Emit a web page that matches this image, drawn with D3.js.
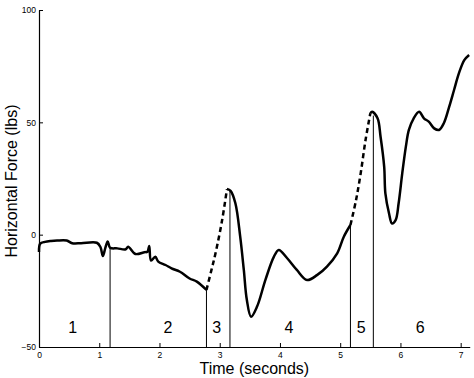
<!DOCTYPE html>
<html>
<head>
<meta charset="utf-8">
<script src="https://cdn.jsdelivr.net/npm/d3@7"></script>
<style>
  body { margin: 0; background: #fff; }
  svg { display: block; }
  text { font-family: "Liberation Sans", Arial, sans-serif; }
</style>
</head>
<body>
<svg width="474" height="378"></svg>
<script>
// tick values
const timeTicks = [0, 1, 2, 3, 4, 5, 6, 7];
const forceTicks = [-50, 0, 50, 100];

// force trace, [time (s), force (lbs)], one array per phase
const phase1and2 = [
  [0, -7.7], [0.02, -4], [0.1, -3.2], [0.2, -2.8], [0.3, -2.6], [0.46, -2.6],
  [0.55, -3.8], [0.7, -3.8], [0.96, -3.6], [1.02, -5.5], [1.06, -9.5], [1.1, -6],
  [1.14, -3], [1.18, -5.8], [1.3, -6.1], [1.44, -6.5], [1.48, -5.4], [1.6, -8.6],
  [1.75, -7.8], [1.8, -7.6], [1.83, -5], [1.86, -11.5], [1.93, -9.8], [1.98, -12],
  [2.1, -13.5], [2.2, -15], [2.34, -16.5], [2.5, -19.5], [2.62, -20.9], [2.78, -24.6]
];
const phase3 = [
  [2.78, -24.6], [2.86, -16], [2.93, -8.3], [3.04, 6.5], [3.12, 20.3]
];
const phase4 = [
  [3.12, 20.3], [3.18, 19.5], [3.26, 14], [3.34, -0.9], [3.4, -15.7], [3.45, -29],
  [3.52, -36.5], [3.62, -32], [3.76, -20], [3.9, -9.8], [3.98, -6.8], [4.12, -10.5],
  [4.28, -15.7], [4.45, -20.2], [4.62, -17.9], [4.78, -14.2], [4.95, -8.3],
  [5.06, -0.9], [5.17, 4.3]
];
const phase5 = [
  [5.17, 4.3], [5.26, 15], [5.34, 27.3], [5.42, 42], [5.5, 54]
];
const phase6 = [
  [5.5, 54], [5.53, 54.7], [5.62, 51.8], [5.67, 43.6], [5.73, 30.3], [5.75, 18.4],
  [5.81, 9.5], [5.86, 5], [5.92, 6.5], [5.97, 14], [6.03, 27.3], [6.09, 39.2],
  [6.14, 46.6], [6.22, 51.8], [6.31, 54.7], [6.39, 51.8], [6.47, 50.3], [6.56, 47.3],
  [6.64, 46.6], [6.72, 49.6], [6.81, 57], [6.89, 64.4], [6.97, 71.8], [7.06, 77.7],
  [7.14, 80]
];

// phase boundaries: [time, force at the trace]
const boundaries = [[1.18, -5.8], [2.78, -24.6], [3.17, 19.8], [5.17, 4.3], [5.55, 53]];
const phaseLabels = ["1", "2", "3", "4", "5", "6"];
const phaseLabelTimes = [0.56, 2.14, 2.95, 4.15, 5.35, 6.33];

const svg = d3.select("svg"),
    margin = {top: 10, right: 4, bottom: 31, left: 39},
    width = +svg.attr("width") - margin.left - margin.right,
    height = +svg.attr("height") - margin.top - margin.bottom;

const chart = svg.append("g").attr("transform", `translate(${margin.left},${margin.top})`);

const x = d3.scaleLinear().domain([0, 7.15]).range([0, 7.15 * 60.24]);
const y = d3.scaleLinear().domain([-50, 100]).range([height, 0]);

const line = d3.line().x(d => x(d[0])).y(d => y(d[1])).curve(d3.curveCatmullRom);

// boundary lines
chart.append("g")
    .selectAll("line")
    .data(boundaries)
    .join("line")
    .attr("x1", d => x(d[0]))
    .attr("x2", d => x(d[0]))
    .attr("y1", height)
    .attr("y2", d => y(d[1]))
    .attr("stroke", "#000")
    .attr("stroke-width", 1);

// trace
const segments = [
  {pts: phase1and2, dashed: false},
  {pts: phase3, dashed: true},
  {pts: phase4, dashed: false},
  {pts: phase5, dashed: true},
  {pts: phase6, dashed: false}
];

chart.append("g")
    .selectAll("path")
    .data(segments)
    .join("path")
    .attr("d", d => line(d.pts))
    .attr("fill", "none")
    .attr("stroke", "#000")
    .attr("stroke-width", 2.5)
    .attr("stroke-linejoin", "round")
    .attr("stroke-dasharray", d => d.dashed ? "5,3.5" : null);

// phase numbers
chart.append("g")
    .selectAll("text")
    .data(phaseLabels)
    .join("text")
    .attr("x", (d, i) => x(phaseLabelTimes[i]))
    .attr("y", y(-41) + 6)
    .attr("text-anchor", "middle")
    .style("font-size", "16px")
    .text(d => d);

// axes, ticks pointing inward
const xAxis = chart.append("g")
    .attr("transform", `translate(0,${height})`)
    .call(d3.axisBottom(x).tickValues(timeTicks).tickSizeInner(-4).tickSizeOuter(0).tickPadding(5));

const yAxis = chart.append("g")
    .call(d3.axisLeft(y).tickValues(forceTicks).tickSizeInner(-4).tickSizeOuter(0).tickPadding(3));

[xAxis, yAxis].forEach(a => {
  a.select(".domain").attr("stroke", "#000").attr("stroke-width", 1.2);
  a.selectAll(".tick line").attr("stroke", "#000");
  a.selectAll(".tick text")
      .style("font-family", "'Liberation Sans', Arial, sans-serif")
      .style("font-size", "8.5px")
      .attr("fill", "#000")
      .text(d => d < 0 ? "\u2212" + Math.abs(d) : d);
});

// axis titles
svg.append("text")
    .attr("x", margin.left + x(7.15) / 2)
    .attr("y", 374)
    .attr("text-anchor", "middle")
    .style("font-size", "16px")
    .text("Time (seconds)");

svg.append("text")
    .attr("transform", `translate(17,181) rotate(-90)`)
    .attr("text-anchor", "middle")
    .style("font-size", "16px")
    .text("Horizontal Force (lbs)");
</script>
</body>
</html>
